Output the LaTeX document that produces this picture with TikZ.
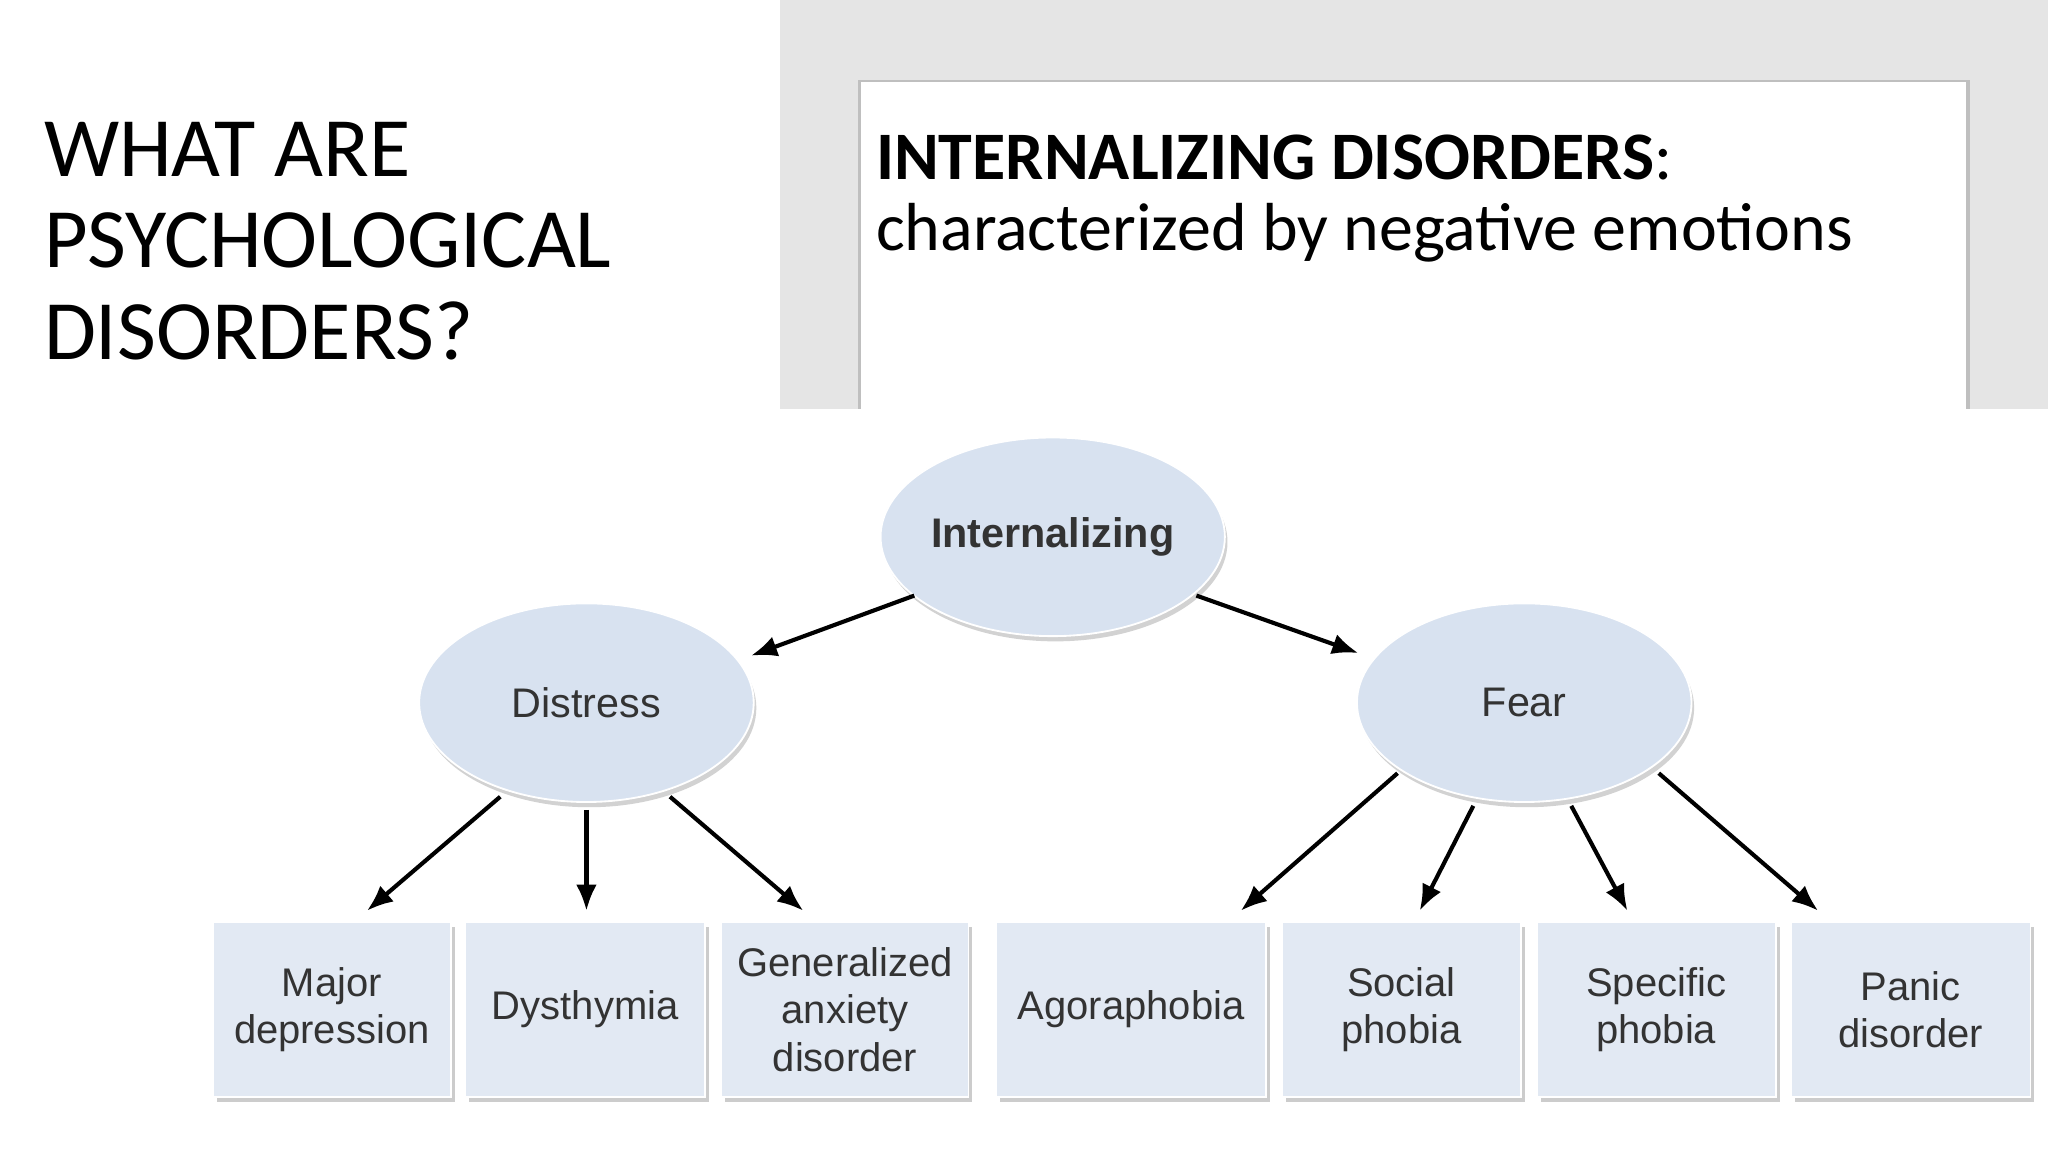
\documentclass[tikz,border=0pt]{standalone}
\usepackage{fontspec}
\setmainfont{Carlito}
\newfontfamily\dsans{Liberation Sans}
\usetikzlibrary{shapes.geometric,calc,shadows,arrows.meta}
\definecolor{bub}{HTML}{D8E2F0}
\definecolor{boxc}{HTML}{E2E9F3}
\definecolor{txt}{HTML}{333333}
\tikzset{
 ell/.style={ellipse,draw=white,fill=bub,minimum width=2.56cm,minimum height=1.52cm,inner sep=0pt,
   drop shadow={shadow xshift=0.02cm,shadow yshift=-0.04cm,opacity=0.35},
   font=\dsans\fontsize{9}{10}\selectfont,text=txt},
 bx/.style={rectangle,draw=white,fill=boxc,minimum height=1.34cm,inner sep=1pt,
   drop shadow={shadow xshift=0.03cm,shadow yshift=-0.04cm,opacity=0.4},
   align=center,font=\dsans\fontsize{8.7}{10.4}\selectfont,text=txt},
 arr/.style={-{Latex[length=0.2cm,width=0.16cm]},line width=0.9pt,black}
}
\begin{document}
\begin{tikzpicture}[x=0.01cm,y=-0.01cm]
\useasboundingbox (0,0) rectangle (1568,882);
\fill[white] (0,0) rectangle (1568,882);
\fill[black!10] (597,0) rectangle (1568,313);
\fill[black!25] (657,61) rectangle (1508,313);
\fill[white] (659,63) rectangle (1505,313);
\node[anchor=base west,align=left,inner sep=0,font=\fontsize{18.4}{19.9}\selectfont] (title) at (33,275)
 {WHAT ARE\\PSYCHOLOGICAL\\DISORDERS?};
\node[anchor=base west,align=left,inner sep=0,font=\fontsize{14.8}{15.6}\selectfont] (sub) at (670,192)
 {\textbf{INTERNALIZING DISORDERS}:\\characterized by negative emotions};
\node[ell,font=\dsans\bfseries\fontsize{9}{10}\selectfont] (int) at (806,411) {Internalizing};
\node[ell] (dis) at (449,538) {Distress};
\node[ell] (fear) at (1167,538) {Fear};
\node[bx,minimum width=1.82cm] (b1) at (254,773) {Major\\depression};
\node[bx,minimum width=1.83cm] (b2) at (448,773) {Dysthymia};
\node[bx,minimum width=1.89cm] (b3) at (647,773) {Generalized\\anxiety\\disorder};
\node[bx,minimum width=2.07cm] (b4) at (866,773) {Agoraphobia};
\node[bx,minimum width=1.83cm] (b5) at (1073,773) {Social\\phobia};
\node[bx,minimum width=1.83cm] (b6) at (1268,773) {Specific\\phobia};
\node[bx,minimum width=1.83cm] (b7) at (1463,773) {Panic\\disorder};
\draw[arr] ($(int.center)+(-106,45)$) -- ($(dis.center)+(126,-36)$);
\draw[arr] ($(int.center)+(110,45)$) -- ($(fear.center)+(-127,-38)$);
\draw[arr] ($(dis.center)+(-66,72)$) -- ($(b1.north)+(27,-8)$);
\draw[arr] ($(dis.center)+(0,82)$) -- ($(b2.north)+(1,-8)$);
\draw[arr] ($(dis.center)+(64,72)$) -- ($(b3.north)+(-32,-8)$);
\draw[arr] ($(fear.center)+(-97,54)$) -- ($(b4.north)+(84,-8)$);
\draw[arr] ($(fear.center)+(-39,79)$) -- ($(b5.north)+(14,-8)$);
\draw[arr] ($(fear.center)+(36,79)$) -- ($(b6.north)+(-22,-8)$);
\draw[arr] ($(fear.center)+(103,54)$) -- ($(b7.north)+(-71,-8)$);
\end{tikzpicture}
\end{document}
